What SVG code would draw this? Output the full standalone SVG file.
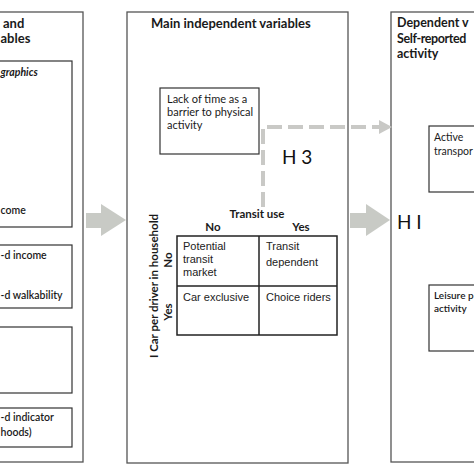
<svg xmlns="http://www.w3.org/2000/svg" width="474" height="474" viewBox="0 0 474 474">
<defs>
<style>
.panel{fill:#fff;stroke:#555;stroke-width:1.3}
.box{fill:#fff;stroke:#333;stroke-width:1.2}
.cell{fill:none;stroke:#222;stroke-width:1.5}
.g{font-family:Lato,"Open Sans","DejaVu Sans",sans-serif;fill:#1a1a1a}
.a{font-family:"Liberation Sans",Arial,sans-serif;fill:#222;font-size:11px}
.t{font-size:13px;font-weight:700}
.s{font-size:10.5px}
.m{font-weight:600}
.b{font-weight:700}
.big{fill:#c8cac5}
.dash{fill:none;stroke:#c9c9c6;stroke-width:4;stroke-dasharray:15 6}
.h{font-size:19px;font-weight:400;fill:#111}
</style>
</defs>
<rect width="474" height="474" fill="#fff"/>
<g id="left-panel">
<rect class="panel" x="-10" y="12" width="93" height="450"/>
<text class="g t" x="3" y="28">and</text>
<text class="g t" x="0.5" y="43">ables</text>
<g id="demographics">
<rect class="box" x="-10" y="61" width="82" height="166"/>
<text class="g s b" x="0.5" y="76" font-style="italic">graphics</text>
<text class="g s m" x="0.5" y="214">come</text>
</g>
<g id="neighborhood">
<rect class="box" x="-10" y="245" width="82" height="63"/>
<text class="g s m" x="0.5" y="259">-d income</text>
<text class="g s m" x="0.5" y="299">-d walkability</text>
</g>
<g id="left-box-3">
<rect class="box" x="-10" y="327" width="82" height="66"/>
</g>
<g id="left-box-4">
<rect class="box" x="-10" y="408" width="82" height="39"/>
<text class="g s m" x="0.5" y="421">-d indicator</text>
<text class="g s m" x="0.5" y="436">hoods)</text>
</g>
</g>
<g id="middle-panel">
<rect class="panel" x="127" y="12" width="221" height="451"/>
<text class="g t" x="151" y="28">Main independent variables</text>
</g>
<g id="lack-of-time">
<rect class="box" x="160" y="88" width="99" height="66"/>
<text class="g" font-size="11" x="167" y="103">Lack of time as a</text>
<text class="g" font-size="11" x="167" y="116">barrier to physical</text>
<text class="g" font-size="11" x="167" y="129">activity</text>
</g>
<g id="typology">
<text class="g b" font-size="11.5" x="257" y="218" text-anchor="middle">Transit use</text>
<text class="g b" font-size="11.5" x="213" y="231" text-anchor="middle">No</text>
<text class="g b" font-size="11.5" x="301" y="231" text-anchor="middle">Yes</text>
<text class="g b" font-size="11.5" transform="translate(158,286) rotate(-90)" text-anchor="middle">I Car per driver in household</text>
<text class="g b" font-size="11.5" transform="translate(172,260) rotate(-90)" text-anchor="middle">No</text>
<text class="g b" font-size="11.5" transform="translate(172,312) rotate(-90)" text-anchor="middle">Yes</text>
<rect class="cell" x="177" y="236" width="160" height="99"/>
<line class="cell" x1="259" y1="236" x2="259" y2="335" stroke-width="2"/>
<line class="cell" x1="177" y1="286" x2="337" y2="286"/>
<g id="potential-transit-market">
<text class="a" x="183" y="250">Potential</text>
<text class="a" x="183" y="263">transit</text>
<text class="a" x="183" y="276">market</text>
</g>
<g id="transit-dependent">
<text class="a" x="266" y="250">Transit</text>
<text class="a" x="266" y="266">dependent</text>
</g>
<g id="car-exclusive">
<text class="a" x="183" y="301">Car exclusive</text>
</g>
<g id="choice-riders">
<text class="a" x="266" y="301">Choice riders</text>
</g>
</g>
<g id="right-panel">
<rect class="panel" x="391" y="12" width="200" height="450"/>
<text class="g b" font-size="12.5" x="397" y="27">Dependent v</text>
<text class="g b" font-size="12.5" x="397" y="43" letter-spacing="-0.4">Self-reported</text>
<text class="g b" font-size="12.5" x="397" y="58">activity</text>
</g>
<g id="active-transport">
<rect class="box" x="429" y="126" width="60" height="66"/>
<text class="g s" x="434" y="141">Active</text>
<text class="g s" x="434" y="155">transpor</text>
</g>
<g id="leisure">
<rect class="box" x="429" y="285" width="60" height="66"/>
<text class="g m" font-size="10" x="434" y="299">Leisure p</text>
<text class="g m" font-size="10" x="434" y="312">activity</text>
</g>
<g id="connectors">
<polygon class="big" points="86,213 101,213 101,204 126,220 101,236 101,228 86,228"/>
<polygon class="big" points="350,213 366,213 366,204 390,220 366,236 366,228 350,228"/>
<path class="dash" d="M263,207 V127 H380"/>
<polygon fill="#c9c9c6" points="379,120 392,127 379,134"/>
<text class="g h" x="282" y="164">H 3</text>
<text class="g h" x="397" y="229">H I</text>
</g>
</svg>
